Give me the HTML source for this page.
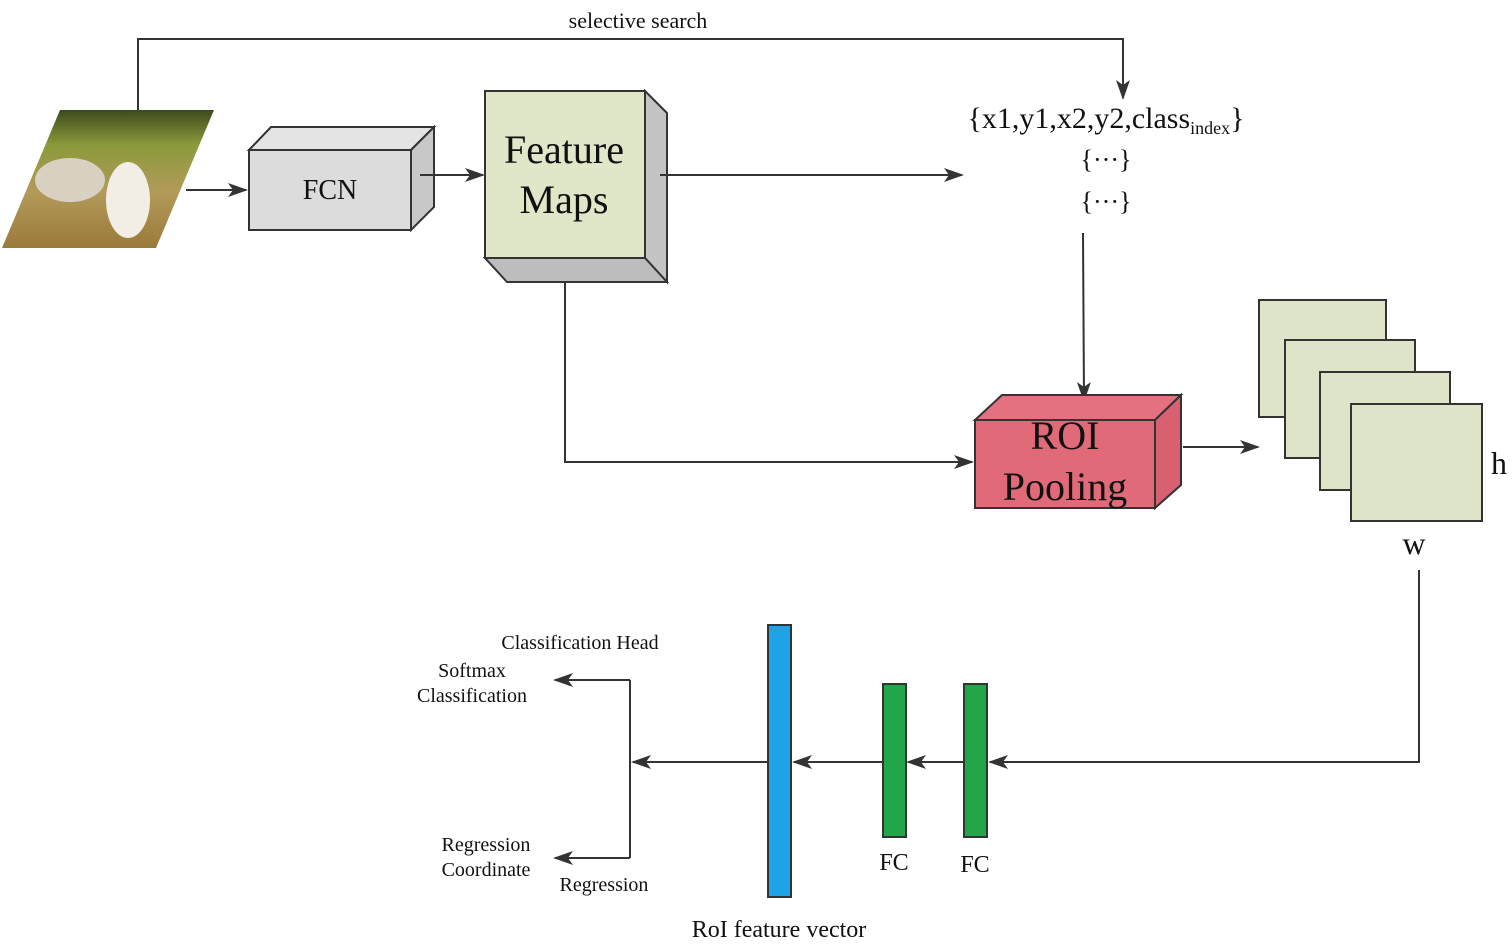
<!DOCTYPE html>
<html><head><meta charset="utf-8"><style>
html,body{margin:0;padding:0;background:#fff;width:1512px;height:945px;overflow:hidden}
svg{display:block}
text{font-family:"Liberation Serif",serif;fill:#111}
</style></head><body>
<svg width="1512" height="945" viewBox="0 0 1512 945" xmlns="http://www.w3.org/2000/svg">
<defs>
<marker id="a" markerWidth="20" markerHeight="14" refX="18" refY="7" orient="auto" markerUnits="userSpaceOnUse">
<path d="M0,0 L20,7 L0,14 L5,7 Z" fill="#333"/></marker>
<linearGradient id="img" x1="0" y1="0" x2="0" y2="1">
<stop offset="0" stop-color="#3d4a1e"/><stop offset="0.25" stop-color="#8a9a3a"/><stop offset="0.6" stop-color="#b39a5a"/><stop offset="1" stop-color="#9a7a3a"/></linearGradient>
</defs>
<g stroke="#333" stroke-width="2" fill="none">
<!-- image -->
<polygon points="2,248 60,110 214,110 156,248" fill="url(#img)" stroke="none"/>
<ellipse cx="70" cy="180" rx="35" ry="22" fill="#d8d0c0" stroke="none"/>
<ellipse cx="128" cy="200" rx="22" ry="38" fill="#f2eee6" stroke="none"/>
<polyline points="138,110 138,39 1123,39 1123,98" marker-end="url(#a)"/>
<!-- FCN -->
<polygon points="249,150 271,127 434,127 411,150" fill="#e4e4e4"/>
<polygon points="411,150 434,127 434,207 411,230" fill="#c8c8c8"/>
<rect x="249" y="150" width="162" height="80" fill="#dcdcdc"/>
<line x1="186" y1="190" x2="246" y2="190" marker-end="url(#a)"/>
<line x1="420" y1="175" x2="483" y2="175" marker-end="url(#a)"/>
<!-- Feature maps -->
<polygon points="645,91 667,113 667,282 645,258" fill="#c4c4c4"/>
<polygon points="485,258 645,258 667,282 507,282" fill="#bdbdbd"/>
<rect x="485" y="91" width="160" height="167" fill="#e0e6c8"/>
<line x1="660" y1="175" x2="962" y2="175" marker-end="url(#a)"/>
<polyline points="565,282 565,462 972,462" marker-end="url(#a)"/>
<line x1="1083" y1="233" x2="1084" y2="400" marker-end="url(#a)"/>
<!-- ROI -->
<polygon points="975,420 1002,395 1181,395 1155,420" fill="#e47080"/>
<polygon points="1155,420 1181,395 1181,485 1155,508" fill="#d86070"/>
<rect x="975" y="420" width="180" height="88" fill="#e06a78"/>
<line x1="1183" y1="447" x2="1258" y2="447" marker-end="url(#a)"/>
<!-- stacks -->
<rect x="1259" y="300" width="127" height="117" fill="#dde4c8"/>
<rect x="1285" y="340" width="130" height="118" fill="#dde4c8"/>
<rect x="1320" y="372" width="130" height="118" fill="#dde4c8"/>
<rect x="1351" y="404" width="131" height="117" fill="#dde4c8"/>
<polyline points="1419,570 1419,762 990,762" marker-end="url(#a)"/>
<line x1="963" y1="762" x2="908" y2="762" marker-end="url(#a)"/>
<line x1="882" y1="762" x2="794" y2="762" marker-end="url(#a)"/>
<line x1="768" y1="762" x2="633" y2="762" marker-end="url(#a)"/>
<polyline points="630,680 630,858"/>
<line x1="630" y1="680" x2="555" y2="680" marker-end="url(#a)"/>
<line x1="630" y1="858" x2="555" y2="858" marker-end="url(#a)"/>
<rect x="768" y="625" width="23" height="272" fill="#1ea3e6"/>
<rect x="883" y="684" width="23" height="153" fill="#22a64a"/>
<rect x="964" y="684" width="23" height="153" fill="#22a64a"/>
</g>
<text x="638" y="28" font-size="22" text-anchor="middle">selective search</text>
<text x="1106" y="128" font-size="30" text-anchor="middle">{x1,y1,x2,y2,class<tspan font-size="18" dy="6">index</tspan><tspan dy="-6">}</tspan></text>
<text x="1106" y="168" font-size="26" text-anchor="middle">{···}</text>
<text x="1106" y="210" font-size="26" text-anchor="middle">{···}</text>
<text x="330" y="199" font-size="28" text-anchor="middle">FCN</text>
<text x="564" y="163" font-size="40" text-anchor="middle">Feature</text>
<text x="564" y="213" font-size="40" text-anchor="middle">Maps</text>
<text x="1065" y="449" font-size="40" text-anchor="middle">ROI</text>
<text x="1065" y="500" font-size="40" text-anchor="middle">Pooling</text>
<text x="1499" y="474" font-size="32" text-anchor="middle">h</text>
<text x="1414" y="554" font-size="32" text-anchor="middle">w</text>
<text x="580" y="649" font-size="20" text-anchor="middle">Classification Head</text>
<text x="472" y="677" font-size="20" text-anchor="middle">Softmax</text>
<text x="472" y="702" font-size="20" text-anchor="middle">Classification</text>
<text x="486" y="851" font-size="20" text-anchor="middle">Regression</text>
<text x="486" y="876" font-size="20" text-anchor="middle">Coordinate</text>
<text x="604" y="891" font-size="20" text-anchor="middle">Regression</text>
<text x="894" y="870" font-size="24" text-anchor="middle">FC</text>
<text x="975" y="872" font-size="24" text-anchor="middle">FC</text>
<text x="779" y="937" font-size="24" text-anchor="middle">RoI feature vector</text>
</svg>
</body></html>
